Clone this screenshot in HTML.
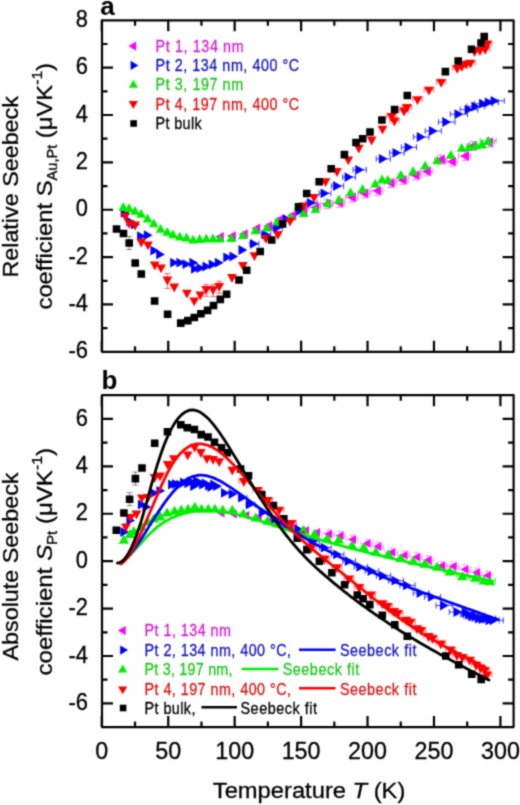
<!DOCTYPE html><html><head><meta charset="utf-8"><style>html,body{margin:0;padding:0;background:#fff;width:520px;height:805px;overflow:hidden}svg{display:block}</style></head><body><svg width="520" height="805" viewBox="0 0 520 805">
<style>text{font-family:'Liberation Sans', Arial, Helvetica, sans-serif;} .tk{font-size:23.3px;stroke:#000;stroke-width:0.3px} .lg{font-size:15.6px;stroke-width:0.3px} .ti{font-size:22.8px;stroke:#000;stroke-width:0.3px}</style>
<defs><filter id="bl" filterUnits="userSpaceOnUse" x="0" y="0" width="520" height="805" color-interpolation-filters="sRGB"><feConvolveMatrix order="3" kernelMatrix="0.0361 0.1178 0.0361 0.1178 0.3846 0.1178 0.0361 0.1178 0.0361" preserveAlpha="false"/></filter></defs>
<rect width="520" height="805" fill="#fff"/>
<g filter="url(#bl)">
<text x="100.3" y="15.4" style="font-size:26px;font-weight:bold">a</text>
<text x="101.5" y="388.5" style="font-size:26px;font-weight:bold">b</text>
<path d="M129.2 236.5V249.5M126.2 236.5h6M126.2 249.5h6" stroke="#000000" stroke-width="1" fill="none" opacity="0.45"/>
<path d="M308.8 207.4H320.8M308.8 204.4v6M320.8 204.4v6M320.4 203.9H332.4M320.4 200.9v6M332.4 200.9v6M332.9 202.9H344.9M332.9 199.9v6M344.9 199.9v6M345.5 197.5H357.5M345.5 194.5v6M357.5 194.5v6M358.0 193.5H370.0M358.0 190.5v6M370.0 190.5v6M370.7 190.8H382.7M370.7 187.8v6M382.7 187.8v6M384.2 183.1H396.2M384.2 180.1v6M396.2 180.1v6M396.2 180.2H408.2M396.2 177.2v6M408.2 177.2v6M409.2 175.4H421.2M409.2 172.4v6M421.2 172.4v6M420.5 171.4H432.5M420.5 168.4v6M432.5 168.4v6M434.5 159.5H446.5M434.5 156.5v6M446.5 156.5v6M445.5 161.7H457.5M445.5 158.7v6M457.5 158.7v6M458.6 156.0H470.6M458.6 153.0v6M470.6 153.0v6M466.3 146.0H478.3M466.3 143.0v6M478.3 143.0v6M482.5 142.5H494.5M482.5 139.5v6M494.5 139.5v6M314.8 202.9V211.9M311.8 202.9h6M311.8 211.9h6M326.4 199.4V208.4M323.4 199.4h6M323.4 208.4h6M338.9 198.4V207.4M335.9 198.4h6M335.9 207.4h6M351.5 193.0V202.0M348.5 193.0h6M348.5 202.0h6M364.0 189.0V198.0M361.0 189.0h6M361.0 198.0h6M376.7 186.3V195.3M373.7 186.3h6M373.7 195.3h6M390.2 178.6V187.6M387.2 178.6h6M387.2 187.6h6M402.2 175.7V184.7M399.2 175.7h6M399.2 184.7h6M415.2 170.9V179.9M412.2 170.9h6M412.2 179.9h6M426.5 166.9V175.9M423.5 166.9h6M423.5 175.9h6M440.5 155.0V164.0M437.5 155.0h6M437.5 164.0h6M451.5 157.2V166.2M448.5 157.2h6M448.5 166.2h6M464.6 151.5V160.5M461.6 151.5h6M461.6 160.5h6M472.3 141.5V150.5M469.3 141.5h6M469.3 150.5h6M488.5 138.0V147.0M485.5 138.0h6M485.5 147.0h6" stroke="#ff00ff" stroke-width="1" fill="none" opacity="0.5"/>
<path d="M249.9 243.8H258.9M249.9 240.8v6M258.9 240.8v6M261.3 234.6H270.7M261.3 231.6v6M270.7 231.6v6M272.6 227.8H282.6M272.6 224.8v6M282.6 224.8v6M281.9 219.0H292.1M281.9 216.0v6M292.1 216.0v6M295.1 210.8H305.9M295.1 207.8v6M305.9 207.8v6M305.9 202.8H317.1M305.9 199.8v6M317.1 199.8v6M319.1 193.3H330.9M319.1 190.3v6M330.9 190.3v6M331.4 186.0H343.6M331.4 183.0v6M343.6 183.0v6M342.6 177.1H355.4M342.6 174.1v6M355.4 174.1v6M353.1 169.8H366.3M353.1 166.8v6M366.3 166.8v6M376.2 158.8H390.4M376.2 155.8v6M390.4 155.8v6M389.6 152.8H404.2M389.6 149.8v6M404.2 149.8v6M401.4 147.3H416.6M401.4 144.3v6M416.6 144.3v6M413.4 137.0H429.0M413.4 134.0v6M429.0 134.0v6M425.2 131.0H441.4M425.2 128.0v6M441.4 128.0v6M438.4 122.0H455.0M438.4 119.0v6M455.0 119.0v6M450.3 114.2H467.5M450.3 111.2v6M467.5 111.2v6M460.2 109.6H477.8M460.2 106.6v6M477.8 106.6v6M466.9 106.5H484.7M466.9 103.5v6M484.7 103.5v6M474.4 103.7H492.6M474.4 100.7v6M492.6 100.7v6M480.0 102.3H498.4M480.0 99.3v6M498.4 99.3v6M485.7 100.8H504.3M485.7 97.8v6M504.3 97.8v6" stroke="#0000ff" stroke-width="1" fill="none" opacity="0.75"/>
<path d="M386.7 116.0H396.3M386.7 113.0v6M396.3 113.0v6M389.6 120.5H399.2M389.6 117.5v6M399.2 117.5v6M399.2 110.5H408.8M399.2 107.5v6M408.8 107.5v6M402.2 107.0H411.8M402.2 104.0v6M411.8 104.0v6M412.7 99.1H422.3M412.7 96.1v6M422.3 96.1v6M424.2 89.7H433.8M424.2 86.7v6M433.8 86.7v6M436.4 81.8H446.0M436.4 78.8v6M446.0 78.8v6M452.4 67.9H462.0M452.4 64.9v6M462.0 64.9v6M457.1 65.8H466.7M457.1 62.8v6M466.7 62.8v6M461.4 63.7H471.0M461.4 60.7v6M471.0 60.7v6M465.6 62.7H475.2M465.6 59.7v6M475.2 59.7v6M469.8 51.0H479.4M469.8 48.0v6M479.4 48.0v6M475.1 50.0H484.7M475.1 47.0v6M484.7 47.0v6M480.4 48.9H490.0M480.4 45.9v6M490.0 45.9v6M482.5 43.5H492.1M482.5 40.5v6M492.1 40.5v6" stroke="#ff0000" stroke-width="1" fill="none" opacity="0.5"/>
<path d="M167.4 273.5V288.5M164.4 273.5h6M164.4 288.5h6M206.2 284.4V296.4M203.2 284.4h6M203.2 296.4h6M213.1 284.7V296.7M210.1 284.7h6M210.1 296.7h6M219.2 281.3V293.3M216.2 281.3h6M216.2 293.3h6" stroke="#ff0000" stroke-width="1" fill="none" opacity="0.6"/>
<path d="M129.6 492.7V505.7M126.6 492.7h6M126.6 505.7h6M135.4 472.1V485.1M132.4 472.1h6M132.4 485.1h6" stroke="#000000" stroke-width="1" fill="none" opacity="0.45"/>
<path d="M322.0 534.0H334.0M322.0 531.0v6M334.0 531.0v6M333.6 535.7H345.6M333.6 532.7v6M345.6 532.7v6M346.0 539.5H358.0M346.0 536.5v6M358.0 536.5v6M360.5 543.4H372.5M360.5 540.4v6M372.5 540.4v6M371.4 546.5H383.4M371.4 543.5v6M383.4 543.5v6M385.2 552.3H397.2M385.2 549.3v6M397.2 549.3v6M397.7 555.2H409.7M397.7 552.2v6M409.7 552.2v6M410.2 557.1H422.2M410.2 554.1v6M422.2 554.1v6M421.7 560.0H433.7M421.7 557.0v6M433.7 557.0v6M435.2 565.7H447.2M435.2 562.7v6M447.2 562.7v6M446.7 566.3H458.7M446.7 563.3v6M458.7 563.3v6M458.5 569.4H470.5M458.5 566.4v6M470.5 566.4v6M470.0 572.5H482.0M470.0 569.5v6M482.0 569.5v6M481.0 575.5H493.0M481.0 572.5v6M493.0 572.5v6M328.0 529.5V538.5M325.0 529.5h6M325.0 538.5h6M339.6 531.2V540.2M336.6 531.2h6M336.6 540.2h6M352.0 535.0V544.0M349.0 535.0h6M349.0 544.0h6M366.5 538.9V547.9M363.5 538.9h6M363.5 547.9h6M377.4 542.0V551.0M374.4 542.0h6M374.4 551.0h6M391.2 547.8V556.8M388.2 547.8h6M388.2 556.8h6M403.7 550.7V559.7M400.7 550.7h6M400.7 559.7h6M416.2 552.6V561.6M413.2 552.6h6M413.2 561.6h6M427.7 555.5V564.5M424.7 555.5h6M424.7 564.5h6M441.2 561.2V570.2M438.2 561.2h6M438.2 570.2h6M452.7 561.8V570.8M449.7 561.8h6M449.7 570.8h6M464.5 564.9V573.9M461.5 564.9h6M461.5 573.9h6M476.0 568.0V577.0M473.0 568.0h6M473.0 577.0h6M487.0 571.0V580.0M484.0 571.0h6M484.0 580.0h6" stroke="#ff00ff" stroke-width="1" fill="none" opacity="0.3"/>
<path d="M238.4 497.7H247.0M238.4 494.7v6M247.0 494.7v6M246.0 504.4H254.8M246.0 501.4v6M254.8 501.4v6M259.1 512.1H268.5M259.1 509.1v6M268.5 509.1v6M271.1 519.0H280.9M271.1 516.0v6M280.9 516.0v6M282.8 525.0H293.2M282.8 522.0v6M293.2 522.0v6M293.8 529.4H304.6M293.8 526.4v6M304.6 526.4v6M308.0 541.0H319.4M308.0 538.0v6M319.4 538.0v6M319.3 547.7H331.1M319.3 544.7v6M331.1 544.7v6M331.5 554.4H343.9M331.5 551.4v6M343.9 551.4v6M342.8 561.2H355.6M342.8 558.2v6M355.6 558.2v6M354.2 566.9H367.4M354.2 563.9v6M367.4 563.9v6M365.2 571.0H378.8M365.2 568.0v6M378.8 568.0v6M376.4 575.8H390.6M376.4 572.8v6M390.6 572.8v6M388.7 580.6H403.3M388.7 577.6v6M403.3 577.6v6M399.9 585.4H415.1M399.9 582.4v6M415.1 582.4v6M413.2 593.1H428.8M413.2 590.1v6M428.8 590.1v6M424.4 596.9H440.6M424.4 593.9v6M440.6 593.9v6M436.1 605.5H452.7M436.1 602.5v6M452.7 602.5v6M449.3 612.0H466.5M449.3 609.0v6M466.5 609.0v6M457.3 612.5H474.7M457.3 609.5v6M474.7 609.5v6M460.7 614.5H478.3M460.7 611.5v6M478.3 611.5v6M463.6 616.0H481.4M463.6 613.0v6M481.4 613.0v6M467.1 616.5H484.9M467.1 613.5v6M484.9 613.5v6M470.5 618.5H488.5M470.5 615.5v6M488.5 615.5v6M473.9 619.0H492.1M473.9 616.0v6M492.1 616.0v6M477.4 618.5H495.6M477.4 615.5v6M495.6 615.5v6M480.8 620.3H499.2M480.8 617.3v6M499.2 617.3v6M484.7 620.3H503.3M484.7 617.3v6M503.3 617.3v6" stroke="#0000ff" stroke-width="1" fill="none" opacity="0.75"/>
<path d="M239.0 481.0H248.6M239.0 478.0v6M248.6 478.0v6M252.7 490.0H262.3M252.7 487.0v6M262.3 487.0v6M262.9 500.0H272.5M262.9 497.0v6M272.5 497.0v6M274.4 509.7H284.0M274.4 506.7v6M284.0 506.7v6M286.7 523.0H296.3M286.7 520.0v6M296.3 520.0v6M295.7 534.5H305.3M295.7 531.5v6M305.3 531.5v6M306.7 547.0H316.3M306.7 544.0v6M316.3 544.0v6M319.7 558.5H329.3M319.7 555.5v6M329.3 555.5v6M332.2 567.2H341.8M332.2 564.2v6M341.8 564.2v6M344.0 578.5H353.6M344.0 575.5v6M353.6 575.5v6M354.2 587.0H363.8M354.2 584.0v6M363.8 584.0v6M366.0 594.5H375.6M366.0 591.5v6M375.6 591.5v6M377.5 603.1H387.1M377.5 600.1v6M387.1 600.1v6M382.7 606.0H392.3M382.7 603.0v6M392.3 603.0v6M389.0 610.8H398.6M389.0 607.8v6M398.6 607.8v6M393.2 612.9H402.8M393.2 609.9v6M402.8 609.9v6M401.5 619.7H411.1M401.5 616.7v6M411.1 616.7v6M405.7 621.7H415.3M405.7 618.7v6M415.3 618.7v6M412.1 628.1H421.7M412.1 625.1v6M421.7 625.1v6M416.2 630.0H425.8M416.2 627.0v6M425.8 627.0v6M423.7 636.0H433.3M423.7 633.0v6M433.3 633.0v6M427.7 638.0H437.3M427.7 635.0v6M437.3 635.0v6M436.0 643.5H445.6M436.0 640.5v6M445.6 640.5v6M445.7 649.5H455.3M445.7 646.5v6M455.3 646.5v6M452.1 655.0H461.7M452.1 652.0v6M461.7 652.0v6M457.5 656.8H467.1M457.5 653.8v6M467.1 653.8v6M464.8 659.6H474.4M464.8 656.6v6M474.4 656.6v6M471.2 664.5H480.8M471.2 661.5v6M480.8 661.5v6M475.7 667.5H485.3M475.7 664.5v6M485.3 664.5v6M479.8 670.0H489.4M479.8 667.0v6M489.4 667.0v6M482.2 674.5H491.8M482.2 671.5v6M491.8 671.5v6" stroke="#ff0000" stroke-width="1" fill="none" opacity="0.5"/>
<path d="M419.3 563.3H430.3M419.3 560.3v6M430.3 560.3v6M431.8 566.2H442.8M431.8 563.2v6M442.8 563.2v6M444.3 571.0H455.3M444.3 568.0v6M455.3 568.0v6M456.8 575.8H467.8M456.8 572.8v6M467.8 572.8v6M469.7 577.3H480.7M469.7 574.3v6M480.7 574.3v6M478.3 579.9H489.3M478.3 576.9v6M489.3 576.9v6M484.4 580.8H495.4M484.4 577.8v6M495.4 577.8v6" stroke="#00ee00" stroke-width="1" fill="none" opacity="0.75"/>
<path d="M480.2 140.5H496.2M480.2 137.5v6M496.2 137.5v6" stroke="#00ee00" stroke-width="1" fill="none" opacity="0.75"/>
<path d="M223.8 231.9L215.0 236.8L223.8 241.7zM235.8 231.2L227.0 236.1L235.8 241.0zM247.7 229.3L238.9 234.2L247.7 239.1zM260.2 223.6L251.4 228.5L260.2 233.4zM272.2 221.1L263.4 226.0L272.2 230.9zM282.6 215.1L273.8 220.0L282.6 224.9zM296.2 210.4L287.4 215.3L296.2 220.2zM307.4 206.1L298.6 211.0L307.4 215.9zM319.2 202.5L310.4 207.4L319.2 212.3zM330.8 199.0L322.0 203.9L330.8 208.8zM343.3 198.0L334.5 202.9L343.3 207.8zM355.9 192.6L347.1 197.5L355.9 202.4zM368.4 188.6L359.6 193.5L368.4 198.4zM381.1 185.9L372.3 190.8L381.1 195.7zM394.6 178.2L385.8 183.1L394.6 188.0zM406.6 175.3L397.8 180.2L406.6 185.1zM419.6 170.5L410.8 175.4L419.6 180.3zM430.9 166.5L422.1 171.4L430.9 176.3zM444.9 154.6L436.1 159.5L444.9 164.4zM455.9 156.8L447.1 161.7L455.9 166.6zM469.0 151.1L460.2 156.0L469.0 160.9zM476.7 141.1L467.9 146.0L476.7 150.9zM492.9 137.6L484.1 142.5L492.9 147.4z" fill="#ff00ff"/>
<path d="M120.7 207.9L129.5 212.8L120.7 217.7zM126.4 216.8L135.2 221.7L126.4 226.6zM131.2 219.7L140.0 224.6L131.2 229.5zM137.1 231.3L145.9 236.2L137.1 241.1zM143.8 230.3L152.6 235.2L143.8 240.1zM150.4 245.7L159.2 250.6L150.4 255.5zM156.2 249.5L165.0 254.4L156.2 259.3zM170.2 257.8L179.0 262.7L170.2 267.6zM176.4 257.8L185.2 262.7L176.4 267.6zM182.5 259.3L191.3 264.2L182.5 269.1zM189.4 257.8L198.2 262.7L189.4 267.6zM191.0 263.9L199.8 268.8L191.0 273.7zM196.4 263.1L205.2 268.0L196.4 272.9zM202.5 261.6L211.3 266.5L202.5 271.4zM208.7 259.6L217.5 264.5L208.7 269.4zM214.8 257.8L223.6 262.7L214.8 267.6zM223.3 252.4L232.1 257.3L223.3 262.2zM229.4 251.6L238.2 256.5L229.4 261.4zM238.5 245.1L247.3 250.0L238.5 254.9zM250.0 238.9L258.8 243.8L250.0 248.7zM261.6 229.7L270.4 234.6L261.6 239.5zM273.2 222.9L282.0 227.8L273.2 232.7zM282.6 214.1L291.4 219.0L282.6 223.9zM296.1 205.9L304.9 210.8L296.1 215.7zM307.1 197.9L315.9 202.8L307.1 207.7zM320.6 188.4L329.4 193.3L320.6 198.2zM333.1 181.1L341.9 186.0L333.1 190.9zM344.6 172.2L353.4 177.1L344.6 182.0zM355.3 164.9L364.1 169.8L355.3 174.7zM378.9 153.9L387.7 158.8L378.9 163.7zM392.5 147.9L401.3 152.8L392.5 157.7zM404.6 142.4L413.4 147.3L404.6 152.2zM416.8 132.1L425.6 137.0L416.8 141.9zM428.9 126.1L437.7 131.0L428.9 135.9zM442.3 117.1L451.1 122.0L442.3 126.9zM454.5 109.3L463.3 114.2L454.5 119.1zM464.6 104.7L473.4 109.6L464.6 114.5zM471.4 101.6L480.2 106.5L471.4 111.4zM479.1 98.8L487.9 103.7L479.1 108.6zM484.8 97.4L493.6 102.3L484.8 107.2zM490.6 95.9L499.4 100.8L490.6 105.7z" fill="#0000ff"/>
<path d="M123.3 202.1L128.2 210.9H118.4zM129.1 203.2L134.0 212.0H124.2zM135.0 206.0L139.9 214.8H130.1zM141.1 209.0L146.0 217.8H136.2zM147.5 213.6L152.4 222.4H142.6zM153.8 218.4L158.7 227.2H148.9zM160.6 223.9L165.5 232.7H155.7zM167.3 226.9L172.2 235.7H162.4zM173.0 229.4L177.9 238.2H168.1zM179.8 231.8L184.7 240.6H174.9zM186.5 232.6L191.4 241.4H181.6zM193.1 234.8L198.0 243.6H188.2zM199.6 234.1L204.5 242.9H194.7zM206.3 233.6L211.2 242.4H201.4zM213.0 233.6L217.9 242.4H208.1zM219.8 233.6L224.7 242.4H214.9zM231.3 233.1L236.2 241.9H226.4zM242.9 230.2L247.8 239.0H238.0zM255.4 225.4L260.3 234.2H250.5zM266.9 222.6L271.8 231.4H262.0zM277.2 216.6L282.1 225.4H272.3zM291.0 211.9L295.9 220.7H286.1zM303.5 208.1L308.4 216.9H298.6zM315.4 204.2L320.3 213.0H310.5zM327.5 198.1L332.4 206.9H322.6zM339.0 194.6L343.9 203.4H334.1zM350.5 187.4L355.4 196.2H345.6zM362.5 184.1L367.4 192.9H357.6zM375.3 178.7L380.2 187.5H370.4zM382.0 174.4L386.9 183.2H377.1zM387.8 175.0L392.7 183.8H382.9zM400.8 170.0L405.7 178.8H395.9zM413.1 166.2L418.0 175.0H408.2zM425.2 160.8L430.1 169.6H420.3zM437.3 155.4L442.2 164.2H432.4zM450.8 150.0L455.7 158.8H445.9zM461.7 142.9L466.6 151.7H456.8zM469.0 142.1L473.9 150.9H464.1zM475.7 140.4L480.6 149.2H470.8zM482.0 139.6L486.9 148.4H477.1zM488.2 136.1L493.1 144.9H483.3z" fill="#00ee00"/>
<path d="M120.4 212.8H130.2L125.3 221.6zM124.5 220.1H134.3L129.4 228.9zM130.3 221.6H140.1L135.2 230.4zM136.4 238.6H146.2L141.3 247.4zM143.1 241.4H152.9L148.0 250.2zM149.9 261.6H159.7L154.8 270.4zM156.1 264.4H165.9L161.0 273.2zM162.5 276.6H172.3L167.4 285.4zM169.3 283.6H179.1L174.2 292.4zM182.0 289.8H191.8L186.9 298.6zM189.3 297.5H199.1L194.2 306.3zM195.4 291.4H205.2L200.3 300.2zM201.3 286.0H211.1L206.2 294.8zM208.2 286.3H218.0L213.1 295.1zM214.3 282.9H224.1L219.2 291.7zM227.1 274.1H236.9L232.0 282.9zM238.0 261.9H247.8L242.9 270.7zM249.5 252.3H259.3L254.4 261.1zM261.1 235.0H270.9L266.0 243.8zM273.0 231.1H282.8L277.9 239.9zM285.1 217.8H294.9L290.0 226.6zM298.5 202.4H308.3L303.4 211.2zM309.1 194.0H318.9L314.0 202.8zM320.6 178.3H330.4L325.5 187.1zM332.1 168.1H341.9L337.0 176.9zM343.4 156.4H353.2L348.3 165.2zM353.9 144.8H363.7L358.8 153.6zM366.7 136.6H376.5L371.6 145.4zM377.6 125.8H387.4L382.5 134.6zM386.6 113.1H396.4L391.5 121.9zM389.5 117.6H399.3L394.4 126.4zM399.1 107.6H408.9L404.0 116.4zM402.1 104.1H411.9L407.0 112.9zM412.6 96.2H422.4L417.5 105.0zM424.1 86.8H433.9L429.0 95.6zM436.3 78.9H446.1L441.2 87.7zM452.3 65.0H462.1L457.2 73.8zM457.0 62.9H466.8L461.9 71.7zM461.3 60.8H471.1L466.2 69.6zM465.5 59.8H475.3L470.4 68.6zM469.7 48.1H479.5L474.6 56.9zM475.0 47.1H484.8L479.9 55.9zM480.3 46.0H490.1L485.2 54.8zM482.4 40.6H492.2L487.3 49.4z" fill="#ff0000"/>
<path d="M112.7 225.2h7.6v7.6h-7.6zM119.7 229.7h7.6v7.6h-7.6zM125.4 239.2h7.6v7.6h-7.6zM131.4 259.2h7.6v7.6h-7.6zM137.5 270.2h7.6v7.6h-7.6zM150.8 297.2h7.6v7.6h-7.6zM163.8 310.4h7.6v7.6h-7.6zM176.9 319.3h7.6v7.6h-7.6zM184.0 316.8h7.6v7.6h-7.6zM190.5 313.7h7.6v7.6h-7.6zM197.1 309.9h7.6v7.6h-7.6zM203.8 306.6h7.6v7.6h-7.6zM209.7 301.7h7.6v7.6h-7.6zM216.5 295.6h7.6v7.6h-7.6zM222.8 290.4h7.6v7.6h-7.6zM235.2 276.2h7.6v7.6h-7.6zM242.9 266.4h7.6v7.6h-7.6zM256.4 247.7h7.6v7.6h-7.6zM267.9 236.2h7.6v7.6h-7.6zM278.8 220.2h7.6v7.6h-7.6zM294.7 203.0h7.6v7.6h-7.6zM302.9 189.7h7.6v7.6h-7.6zM315.4 177.9h7.6v7.6h-7.6zM327.4 165.0h7.6v7.6h-7.6zM340.6 150.8h7.6v7.6h-7.6zM352.2 138.7h7.6v7.6h-7.6zM358.9 134.9h7.6v7.6h-7.6zM366.2 128.2h7.6v7.6h-7.6zM378.1 116.2h7.6v7.6h-7.6zM390.8 105.7h7.6v7.6h-7.6zM403.5 91.7h7.6v7.6h-7.6zM441.6 67.8h7.6v7.6h-7.6zM454.4 57.2h7.6v7.6h-7.6zM467.7 45.5h7.6v7.6h-7.6zM477.2 39.2h7.6v7.6h-7.6zM480.4 32.8h7.6v7.6h-7.6z" fill="#000000"/>
<path d="M224.5 508.6L216.5 513.0L224.5 517.4zM236.9 509.6L228.9 514.0L236.9 518.4zM249.2 511.1L241.2 515.5L249.2 519.9zM261.7 512.6L253.7 517.0L261.7 521.4zM273.0 516.1L265.0 520.5L273.0 524.9zM285.0 520.1L277.0 524.5L285.0 528.9zM297.0 523.6L289.0 528.0L297.0 532.4zM309.0 526.1L301.0 530.5L309.0 534.9zM320.0 528.1L312.0 532.5L320.0 536.9zM332.0 529.6L324.0 534.0L332.0 538.4zM343.6 531.3L335.6 535.7L343.6 540.1zM356.0 535.1L348.0 539.5L356.0 543.9zM370.5 539.0L362.5 543.4L370.5 547.8zM381.4 542.1L373.4 546.5L381.4 550.9zM395.2 547.9L387.2 552.3L395.2 556.7zM407.7 550.8L399.7 555.2L407.7 559.6zM420.2 552.7L412.2 557.1L420.2 561.5zM431.7 555.6L423.7 560.0L431.7 564.4zM445.2 561.3L437.2 565.7L445.2 570.1zM456.7 561.9L448.7 566.3L456.7 570.7zM468.5 565.0L460.5 569.4L468.5 573.8zM480.0 568.1L472.0 572.5L480.0 576.9zM491.0 571.1L483.0 575.5L491.0 579.9z" fill="#ff00ff"/>
<path d="M120.3 527.1L129.1 532.0L120.3 536.9zM126.4 515.5L135.2 520.4L126.4 525.3zM137.9 499.7L146.7 504.6L137.9 509.5zM142.5 502.0L151.3 506.9L142.5 511.8zM150.2 488.2L159.0 493.1L150.2 498.0zM156.4 485.9L165.2 490.8L156.4 495.7zM168.1 479.6L176.9 484.5L168.1 489.4zM172.1 479.1L180.9 484.0L172.1 488.9zM176.4 479.7L185.2 484.6L176.4 489.5zM180.1 477.6L188.9 482.5L180.1 487.4zM184.4 478.4L193.2 483.3L184.4 488.2zM187.1 476.6L195.9 481.5L187.1 486.4zM190.2 481.3L199.0 486.2L190.2 491.1zM193.1 475.9L201.9 480.8L193.1 485.7zM196.0 477.4L204.8 482.3L196.0 487.2zM199.1 479.6L207.9 484.5L199.1 489.4zM201.8 478.4L210.6 483.3L201.8 488.2zM205.1 480.6L213.9 485.5L205.1 490.4zM207.5 482.2L216.3 487.1L207.5 492.0zM210.1 479.6L218.9 484.5L210.1 489.4zM213.3 481.3L222.1 486.2L213.3 491.1zM221.0 488.0L229.8 492.9L221.0 497.8zM228.6 489.1L237.4 494.0L228.6 498.9zM238.3 492.8L247.1 497.7L238.3 502.6zM246.0 499.5L254.8 504.4L246.0 509.3zM259.4 507.2L268.2 512.1L259.4 517.0zM271.6 514.1L280.4 519.0L271.6 523.9zM283.6 520.1L292.4 525.0L283.6 529.9zM294.8 524.5L303.6 529.4L294.8 534.3zM309.3 536.1L318.1 541.0L309.3 545.9zM320.8 542.8L329.6 547.7L320.8 552.6zM333.3 549.5L342.1 554.4L333.3 559.3zM344.8 556.3L353.6 561.2L344.8 566.1zM356.4 562.0L365.2 566.9L356.4 571.8zM367.6 566.1L376.4 571.0L367.6 575.9zM379.1 570.9L387.9 575.8L379.1 580.7zM391.6 575.7L400.4 580.6L391.6 585.5zM403.1 580.5L411.9 585.4L403.1 590.3zM416.6 588.2L425.4 593.1L416.6 598.0zM428.1 592.0L436.9 596.9L428.1 601.8zM440.0 600.6L448.8 605.5L440.0 610.4zM453.5 607.1L462.3 612.0L453.5 616.9zM461.6 607.6L470.4 612.5L461.6 617.4zM465.1 609.6L473.9 614.5L465.1 619.4zM468.1 611.1L476.9 616.0L468.1 620.9zM471.6 611.6L480.4 616.5L471.6 621.4zM475.1 613.6L483.9 618.5L475.1 623.4zM478.6 614.1L487.4 619.0L478.6 623.9zM482.1 613.6L490.9 618.5L482.1 623.4zM485.6 615.4L494.4 620.3L485.6 625.2zM489.6 615.4L498.4 620.3L489.6 625.2z" fill="#0000ff"/>
<path d="M123.8 534.7L129.1 543.7H118.5zM130.0 529.0L135.3 538.0H124.7zM133.8 526.1L139.1 535.1H128.5zM141.3 521.5L146.6 530.5H136.0zM147.5 516.5L152.8 525.5H142.2zM153.8 513.5L159.1 522.5H148.5zM160.2 511.5L165.5 520.5H154.9zM167.0 507.5L172.3 516.5H161.7zM174.6 505.7L179.9 514.7H169.3zM181.3 504.7L186.6 513.7H176.0zM188.0 503.8L193.3 512.8H182.7zM194.8 501.8L200.1 510.8H189.5zM201.5 503.8L206.8 512.8H196.2zM208.3 503.8L213.6 512.8H203.0zM215.0 503.8L220.3 512.8H209.7zM222.7 504.7L228.0 513.7H217.4zM232.3 504.7L237.6 513.7H227.0zM243.3 508.5L248.6 517.5H238.0zM255.8 512.5L261.1 521.5H250.5zM267.5 515.8L272.8 524.8H262.2zM277.3 518.2L282.6 527.2H272.0zM290.0 521.5L295.3 530.5H284.7zM303.1 524.9L308.4 533.9H297.8zM314.6 528.8L319.9 537.8H309.3zM327.1 533.6L332.4 542.6H321.8zM338.7 534.5L344.0 543.5H333.4zM352.1 540.3L357.4 549.3H346.8zM363.7 542.2L369.0 551.2H358.4zM375.8 546.7L381.1 555.7H370.5zM388.3 549.2L393.6 558.2H383.0zM400.8 553.0L406.1 562.0H395.5zM413.3 555.9L418.6 564.9H408.0zM424.8 558.8L430.1 567.8H419.5zM437.3 561.7L442.6 570.7H432.0zM449.8 566.5L455.1 575.5H444.5zM462.3 571.3L467.6 580.3H457.0zM475.2 572.8L480.5 581.8H469.9zM483.8 575.4L489.1 584.4H478.5zM489.9 576.3L495.2 585.3H484.6z" fill="#00ee00"/>
<path d="M121.0 523.4H130.8L125.9 532.2zM125.5 513.9H135.3L130.4 522.7zM131.5 510.6H141.3L136.4 519.4zM136.9 494.5H146.7L141.8 503.3zM143.1 493.9H152.9L148.0 502.7zM149.7 474.1H159.5L154.6 482.9zM155.1 472.5H164.9L160.0 481.3zM162.8 461.0H172.6L167.7 469.8zM168.9 455.2H178.7L173.8 464.0zM182.8 451.4H192.6L187.7 460.2zM189.7 443.7H199.5L194.6 452.5zM195.9 449.1H205.7L200.8 457.9zM202.0 455.2H211.8L206.9 464.0zM208.2 456.0H218.0L213.1 464.8zM214.3 458.3H224.1L219.2 467.1zM227.4 466.8H237.2L232.3 475.6zM238.9 478.1H248.7L243.8 486.9zM252.6 487.1H262.4L257.5 495.9zM262.8 497.1H272.6L267.7 505.9zM274.3 506.8H284.1L279.2 515.6zM286.6 520.1H296.4L291.5 528.9zM295.6 531.6H305.4L300.5 540.4zM306.6 544.1H316.4L311.5 552.9zM319.6 555.6H329.4L324.5 564.4zM332.1 564.3H341.9L337.0 573.1zM343.9 575.6H353.7L348.8 584.4zM354.1 584.1H363.9L359.0 592.9zM365.9 591.6H375.7L370.8 600.4zM377.4 600.2H387.2L382.3 609.0zM382.6 603.1H392.4L387.5 611.9zM388.9 607.9H398.7L393.8 616.7zM393.1 610.0H402.9L398.0 618.8zM401.4 616.8H411.2L406.3 625.6zM405.6 618.8H415.4L410.5 627.6zM412.0 625.2H421.8L416.9 634.0zM416.1 627.1H425.9L421.0 635.9zM423.6 633.1H433.4L428.5 641.9zM427.6 635.1H437.4L432.5 643.9zM435.9 640.6H445.7L440.8 649.4zM445.6 646.6H455.4L450.5 655.4zM452.0 652.1H461.8L456.9 660.9zM457.4 653.9H467.2L462.3 662.7zM464.7 656.7H474.5L469.6 665.5zM471.1 661.6H480.9L476.0 670.4zM475.6 664.6H485.4L480.5 673.4zM479.7 667.1H489.5L484.6 675.9zM482.1 671.6H491.9L487.0 680.4z" fill="#ff0000"/>
<path d="M112.5 526.5h7.6v7.6h-7.6zM120.1 509.2h7.6v7.6h-7.6zM125.8 495.4h7.6v7.6h-7.6zM131.6 474.8h7.6v7.6h-7.6zM138.2 464.2h7.6v7.6h-7.6zM150.9 439.4h7.6v7.6h-7.6zM163.7 427.9h7.6v7.6h-7.6zM177.0 421.0h7.6v7.6h-7.6zM183.5 424.0h7.6v7.6h-7.6zM190.6 425.7h7.6v7.6h-7.6zM197.4 430.8h7.6v7.6h-7.6zM204.2 433.2h7.6v7.6h-7.6zM210.7 438.4h7.6v7.6h-7.6zM217.7 444.1h7.6v7.6h-7.6zM223.5 449.0h7.6v7.6h-7.6zM236.8 465.2h7.6v7.6h-7.6zM244.7 472.0h7.6v7.6h-7.6zM258.0 490.7h7.6v7.6h-7.6zM269.6 501.7h7.6v7.6h-7.6zM280.0 515.0h7.6v7.6h-7.6zM293.5 534.3h7.6v7.6h-7.6zM303.1 545.8h7.6v7.6h-7.6zM315.6 557.4h7.6v7.6h-7.6zM328.1 568.9h7.6v7.6h-7.6zM340.8 581.0h7.6v7.6h-7.6zM353.5 591.2h7.6v7.6h-7.6zM359.3 595.0h7.6v7.6h-7.6zM366.0 600.8h7.6v7.6h-7.6zM378.5 611.4h7.6v7.6h-7.6zM391.0 621.0h7.6v7.6h-7.6zM403.5 632.5h7.6v7.6h-7.6zM442.0 652.2h7.6v7.6h-7.6zM454.9 660.9h7.6v7.6h-7.6zM467.9 670.4h7.6v7.6h-7.6zM477.4 675.6h7.6v7.6h-7.6z" fill="#000000"/>
<path d="M121.0 562.9 L123.3 561.1 L125.7 559.2 L128.0 557.1 L130.3 554.8 L132.7 552.3 L135.0 549.8 L137.4 547.2 L139.7 544.6 L142.0 542.0 L144.4 539.4 L146.7 536.9 L149.0 534.5 L151.4 532.2 L153.7 530.1 L156.0 528.1 L158.4 526.2 L160.7 524.5 L163.1 522.9 L165.4 521.5 L167.7 520.1 L170.1 518.9 L172.4 517.8 L174.7 516.8 L177.1 515.8 L179.4 515.0 L181.7 514.2 L184.1 513.5 L186.4 512.9 L188.8 512.4 L191.1 511.9 L193.4 511.5 L195.8 511.2 L198.1 510.9 L200.4 510.7 L202.8 510.6 L205.1 510.5 L207.4 510.5 L209.8 510.5 L212.1 510.6 L214.5 510.7 L216.8 510.9 L219.1 511.1 L221.5 511.4 L223.8 511.7 L226.1 512.1 L228.5 512.5 L230.8 513.0 L233.2 513.4 L235.5 513.9 L237.8 514.5 L240.2 515.1 L242.5 515.7 L244.8 516.3 L247.2 517.0 L249.5 517.6 L251.8 518.3 L254.2 519.0 L256.5 519.8 L258.9 520.5 L261.2 521.3 L263.5 522.0 L265.9 522.8 L268.2 523.6 L270.5 524.4 L272.9 525.1 L275.2 525.9 L277.5 526.7 L279.9 527.5 L282.2 528.3 L284.6 529.0 L286.9 529.8 L289.2 530.5 L291.6 531.3 L293.9 532.0 L296.2 532.7 L298.6 533.5 L300.9 534.2 L303.2 534.9 L305.6 535.6 L307.9 536.3 L310.3 537.0 L312.6 537.7 L314.9 538.4 L317.3 539.0 L319.6 539.7 L321.9 540.4 L324.3 541.1 L326.6 541.7 L328.9 542.4 L331.3 543.0 L333.6 543.6 L336.0 544.3 L338.3 544.9 L340.6 545.5 L343.0 546.2 L345.3 546.8 L347.6 547.4 L350.0 548.0 L352.3 548.6 L354.6 549.2 L357.0 549.8 L359.3 550.4 L361.7 551.0 L364.0 551.6 L366.3 552.2 L368.7 552.8 L371.0 553.3 L373.3 553.9 L375.7 554.5 L378.0 555.1 L380.3 555.6 L382.7 556.2 L385.0 556.8 L387.4 557.3 L389.7 557.9 L392.0 558.4 L394.4 559.0 L396.7 559.5 L399.0 560.1 L401.4 560.6 L403.7 561.2 L406.1 561.7 L408.4 562.3 L410.7 562.8 L413.1 563.3 L415.4 563.9 L417.7 564.4 L420.1 564.9 L422.4 565.5 L424.7 566.0 L427.1 566.5 L429.4 567.1 L431.8 567.6 L434.1 568.1 L436.4 568.7 L438.8 569.2 L441.1 569.7 L443.4 570.3 L445.8 570.8 L448.1 571.3 L450.4 571.9 L452.8 572.4 L455.1 572.9 L457.5 573.5 L459.8 574.0 L462.1 574.5 L464.5 575.1 L466.8 575.6 L469.1 576.2 L471.5 576.7 L473.8 577.2 L476.1 577.8 L478.5 578.3 L480.8 578.9 L483.2 579.4 L485.5 580.0 L487.8 580.5 L490.2 581.1 L492.5 581.6" fill="none" stroke="#00ee00" stroke-width="2.8" stroke-linecap="round" stroke-linejoin="round"/>
<path d="M121.0 563.5 L123.4 561.5 L125.7 559.3 L128.1 556.8 L130.5 554.0 L132.8 551.0 L135.2 547.7 L137.6 544.4 L140.0 540.8 L142.3 537.2 L144.7 533.5 L147.1 529.7 L149.4 525.9 L151.8 522.1 L154.2 518.4 L156.5 514.7 L158.9 511.1 L161.3 507.5 L163.6 504.1 L166.0 500.8 L168.4 497.7 L170.8 494.7 L173.1 491.8 L175.5 489.2 L177.9 486.7 L180.2 484.4 L182.6 482.4 L185.0 480.6 L187.3 479.0 L189.7 477.7 L192.1 476.7 L194.4 476.0 L196.8 475.5 L199.2 475.2 L201.6 475.2 L203.9 475.4 L206.3 475.7 L208.7 476.3 L211.0 477.0 L213.4 477.9 L215.8 478.9 L218.1 480.0 L220.5 481.3 L222.9 482.6 L225.2 484.1 L227.6 485.6 L230.0 487.1 L232.4 488.7 L234.7 490.3 L237.1 492.0 L239.5 493.6 L241.8 495.3 L244.2 497.0 L246.6 498.7 L248.9 500.4 L251.3 502.1 L253.7 503.8 L256.0 505.5 L258.4 507.3 L260.8 509.0 L263.2 510.7 L265.5 512.4 L267.9 514.0 L270.3 515.7 L272.6 517.3 L275.0 519.0 L277.4 520.6 L279.7 522.2 L282.1 523.7 L284.5 525.3 L286.8 526.8 L289.2 528.3 L291.6 529.8 L294.0 531.3 L296.3 532.8 L298.7 534.2 L301.1 535.7 L303.4 537.1 L305.8 538.5 L308.2 539.9 L310.5 541.2 L312.9 542.6 L315.3 543.9 L317.6 545.2 L320.0 546.5 L322.4 547.8 L324.7 549.1 L327.1 550.4 L329.5 551.6 L331.9 552.9 L334.2 554.1 L336.6 555.3 L339.0 556.5 L341.3 557.7 L343.7 558.9 L346.1 560.0 L348.4 561.2 L350.8 562.3 L353.2 563.5 L355.5 564.6 L357.9 565.7 L360.3 566.8 L362.7 567.9 L365.0 568.9 L367.4 570.0 L369.8 571.1 L372.1 572.1 L374.5 573.1 L376.9 574.2 L379.2 575.2 L381.6 576.2 L384.0 577.2 L386.3 578.2 L388.7 579.2 L391.1 580.1 L393.5 581.1 L395.8 582.1 L398.2 583.0 L400.6 584.0 L402.9 584.9 L405.3 585.8 L407.7 586.7 L410.0 587.7 L412.4 588.6 L414.8 589.5 L417.1 590.4 L419.5 591.3 L421.9 592.2 L424.3 593.1 L426.6 593.9 L429.0 594.8 L431.4 595.7 L433.7 596.6 L436.1 597.4 L438.5 598.3 L440.8 599.2 L443.2 600.0 L445.6 600.9 L447.9 601.7 L450.3 602.6 L452.7 603.4 L455.1 604.3 L457.4 605.1 L459.8 605.9 L462.2 606.8 L464.5 607.6 L466.9 608.5 L469.3 609.3 L471.6 610.1 L474.0 611.0 L476.4 611.8 L478.7 612.6 L481.1 613.5 L483.5 614.3 L485.9 615.2 L488.2 616.0 L490.6 616.8 L493.0 617.7 L495.3 618.5 L497.7 619.4" fill="none" stroke="#0000ff" stroke-width="2.8" stroke-linecap="round" stroke-linejoin="round"/>
<path d="M121.0 564.0 L123.3 562.2 L125.6 559.8 L127.9 556.9 L130.2 553.6 L132.5 549.8 L134.8 545.6 L137.1 541.2 L139.4 536.4 L141.7 531.4 L144.0 526.3 L146.3 520.9 L148.6 515.5 L150.9 510.0 L153.3 504.5 L155.6 499.0 L157.9 493.6 L160.2 488.4 L162.5 483.2 L164.8 478.3 L167.1 473.7 L169.4 469.3 L171.7 465.3 L174.0 461.7 L176.3 458.4 L178.6 455.5 L180.9 452.9 L183.2 450.7 L185.5 448.8 L187.8 447.3 L190.1 446.0 L192.4 445.1 L194.7 444.4 L197.0 444.0 L199.3 443.8 L201.6 443.9 L203.9 444.3 L206.2 444.8 L208.5 445.6 L210.8 446.6 L213.2 447.8 L215.5 449.1 L217.8 450.7 L220.1 452.3 L222.4 454.2 L224.7 456.1 L227.0 458.2 L229.3 460.4 L231.6 462.7 L233.9 465.1 L236.2 467.6 L238.5 470.1 L240.8 472.7 L243.1 475.3 L245.4 478.0 L247.7 480.7 L250.0 483.4 L252.3 486.1 L254.6 488.8 L256.9 491.5 L259.2 494.2 L261.5 496.9 L263.8 499.6 L266.1 502.3 L268.4 505.0 L270.7 507.6 L273.0 510.3 L275.4 512.9 L277.7 515.5 L280.0 518.0 L282.3 520.5 L284.6 523.0 L286.9 525.4 L289.2 527.7 L291.5 530.1 L293.8 532.3 L296.1 534.5 L298.4 536.7 L300.7 538.8 L303.0 540.9 L305.3 543.0 L307.6 545.0 L309.9 547.0 L312.2 549.0 L314.5 550.9 L316.8 552.8 L319.1 554.7 L321.4 556.6 L323.7 558.5 L326.0 560.3 L328.3 562.2 L330.6 564.0 L332.9 565.8 L335.3 567.7 L337.6 569.5 L339.9 571.4 L342.2 573.2 L344.5 575.1 L346.8 576.9 L349.1 578.8 L351.4 580.7 L353.7 582.5 L356.0 584.4 L358.3 586.3 L360.6 588.1 L362.9 590.0 L365.2 591.8 L367.5 593.7 L369.8 595.5 L372.1 597.3 L374.4 599.2 L376.7 601.0 L379.0 602.8 L381.3 604.6 L383.6 606.4 L385.9 608.1 L388.2 609.9 L390.5 611.6 L392.8 613.3 L395.1 615.0 L397.5 616.7 L399.8 618.4 L402.1 620.0 L404.4 621.6 L406.7 623.2 L409.0 624.8 L411.3 626.4 L413.6 627.9 L415.9 629.4 L418.2 630.9 L420.5 632.3 L422.8 633.8 L425.1 635.2 L427.4 636.5 L429.7 637.9 L432.0 639.2 L434.3 640.5 L436.6 641.8 L438.9 643.1 L441.2 644.4 L443.5 645.7 L445.8 646.9 L448.1 648.1 L450.4 649.3 L452.7 650.6 L455.0 651.8 L457.4 653.0 L459.7 654.2 L462.0 655.4 L464.3 656.5 L466.6 657.7 L468.9 658.9 L471.2 660.1 L473.5 661.3 L475.8 662.5 L478.1 663.7 L480.4 664.9 L482.7 666.2 L485.0 667.4 L487.3 668.6" fill="none" stroke="#ff0000" stroke-width="2.8" stroke-linecap="round" stroke-linejoin="round"/>
<path d="M117.5 563.0 L119.8 562.6 L122.2 561.3 L124.5 559.0 L126.8 555.9 L129.2 552.0 L131.5 547.3 L133.9 541.9 L136.2 535.9 L138.5 529.3 L140.9 522.1 L143.2 514.4 L145.5 506.3 L147.9 497.8 L150.2 489.2 L152.5 480.8 L154.9 472.8 L157.2 465.1 L159.6 457.8 L161.9 451.0 L164.2 444.7 L166.6 438.9 L168.9 433.7 L171.2 429.1 L173.6 424.9 L175.9 421.3 L178.2 418.3 L180.6 415.7 L182.9 413.6 L185.3 412.0 L187.6 410.9 L189.9 410.2 L192.3 410.0 L194.6 410.2 L196.9 410.8 L199.3 411.8 L201.6 413.1 L203.9 414.8 L206.3 416.8 L208.6 419.0 L211.0 421.6 L213.3 424.3 L215.6 427.3 L218.0 430.5 L220.3 433.8 L222.6 437.2 L225.0 440.8 L227.3 444.5 L229.7 448.3 L232.0 452.1 L234.3 455.9 L236.7 459.7 L239.0 463.5 L241.3 467.4 L243.7 471.2 L246.0 475.0 L248.3 478.8 L250.7 482.6 L253.0 486.4 L255.4 490.2 L257.7 493.9 L260.0 497.6 L262.4 501.2 L264.7 504.8 L267.0 508.4 L269.4 511.9 L271.7 515.3 L274.0 518.7 L276.4 522.1 L278.7 525.3 L281.1 528.5 L283.4 531.6 L285.7 534.6 L288.1 537.6 L290.4 540.5 L292.7 543.3 L295.1 546.0 L297.4 548.7 L299.7 551.3 L302.1 553.8 L304.4 556.3 L306.8 558.7 L309.1 561.0 L311.4 563.3 L313.8 565.5 L316.1 567.7 L318.4 569.8 L320.8 571.9 L323.1 573.9 L325.4 575.9 L327.8 577.9 L330.1 579.9 L332.5 581.9 L334.8 583.8 L337.1 585.7 L339.5 587.6 L341.8 589.5 L344.1 591.3 L346.5 593.1 L348.8 595.0 L351.1 596.8 L353.5 598.5 L355.8 600.3 L358.2 602.1 L360.5 603.8 L362.8 605.5 L365.2 607.2 L367.5 608.9 L369.8 610.5 L372.2 612.2 L374.5 613.8 L376.8 615.4 L379.2 617.0 L381.5 618.6 L383.9 620.2 L386.2 621.7 L388.5 623.3 L390.9 624.8 L393.2 626.3 L395.5 627.8 L397.9 629.3 L400.2 630.8 L402.6 632.3 L404.9 633.7 L407.2 635.2 L409.6 636.6 L411.9 638.0 L414.2 639.4 L416.6 640.8 L418.9 642.2 L421.2 643.6 L423.6 644.9 L425.9 646.3 L428.3 647.6 L430.6 649.0 L432.9 650.3 L435.3 651.6 L437.6 652.9 L439.9 654.2 L442.3 655.5 L444.6 656.8 L446.9 658.1 L449.3 659.3 L451.6 660.6 L454.0 661.8 L456.3 663.1 L458.6 664.3 L461.0 665.6 L463.3 666.8 L465.6 668.0 L468.0 669.3 L470.3 670.5 L472.6 671.7 L475.0 672.9 L477.3 674.1 L479.7 675.3 L482.0 676.5 L484.3 677.7 L486.7 678.9 L489.0 680.1" fill="none" stroke="#000000" stroke-width="2.8" stroke-linecap="round" stroke-linejoin="round"/>
<path d="M101.80 351.80v-11M101.80 20.30v11M135.02 351.80v-5.5M135.02 20.30v5.5M168.24 351.80v-11M168.24 20.30v11M201.45 351.80v-5.5M201.45 20.30v5.5M234.67 351.80v-11M234.67 20.30v11M267.89 351.80v-5.5M267.89 20.30v5.5M301.11 351.80v-11M301.11 20.30v11M334.32 351.80v-5.5M334.32 20.30v5.5M367.54 351.80v-11M367.54 20.30v11M400.76 351.80v-5.5M400.76 20.30v5.5M433.98 351.80v-11M433.98 20.30v11M467.19 351.80v-5.5M467.19 20.30v5.5M500.41 351.80v-11M500.41 20.30v11M102.00 328.14h5.5M513.60 328.14h-5.5M102.00 304.46h11M513.60 304.46h-11M102.00 280.78h5.5M513.60 280.78h-5.5M102.00 257.10h11M513.60 257.10h-11M102.00 233.42h5.5M513.60 233.42h-5.5M102.00 209.74h11M513.60 209.74h-11M102.00 186.06h5.5M513.60 186.06h-5.5M102.00 162.38h11M513.60 162.38h-11M102.00 138.70h5.5M513.60 138.70h-5.5M102.00 115.02h11M513.60 115.02h-11M102.00 91.34h5.5M513.60 91.34h-5.5M102.00 67.66h11M513.60 67.66h-11M102.00 43.98h5.5M513.60 43.98h-5.5" stroke="#000" stroke-width="2.2" fill="none"/>
<rect x="102.0" y="20.3" width="411.60" height="331.50" fill="none" stroke="#000" stroke-width="2.2" stroke-linejoin="round"/>
<path d="M101.80 727.10v-11M101.80 395.20v11M135.02 727.10v-5.5M135.02 395.20v5.5M168.24 727.10v-11M168.24 395.20v11M201.45 727.10v-5.5M201.45 395.20v5.5M234.67 727.10v-11M234.67 395.20v11M267.89 727.10v-5.5M267.89 395.20v5.5M301.11 727.10v-11M301.11 395.20v11M334.32 727.10v-5.5M334.32 395.20v5.5M367.54 727.10v-11M367.54 395.20v11M400.76 727.10v-5.5M400.76 395.20v5.5M433.98 727.10v-11M433.98 395.20v11M467.19 727.10v-5.5M467.19 395.20v5.5M500.41 727.10v-11M500.41 395.20v11M102.00 703.42h11M513.60 703.42h-11M102.00 679.71h5.5M513.60 679.71h-5.5M102.00 656.00h11M513.60 656.00h-11M102.00 632.29h5.5M513.60 632.29h-5.5M102.00 608.58h11M513.60 608.58h-11M102.00 584.87h5.5M513.60 584.87h-5.5M102.00 561.16h11M513.60 561.16h-11M102.00 537.45h5.5M513.60 537.45h-5.5M102.00 513.74h11M513.60 513.74h-11M102.00 490.03h5.5M513.60 490.03h-5.5M102.00 466.32h11M513.60 466.32h-11M102.00 442.61h5.5M513.60 442.61h-5.5M102.00 418.90h11M513.60 418.90h-11" stroke="#000" stroke-width="2.2" fill="none"/>
<rect x="102.0" y="395.2" width="411.60" height="331.90" fill="none" stroke="#000" stroke-width="2.2" stroke-linejoin="round"/>
<text transform="translate(88,26.9) scale(0.94,1)" text-anchor="end" class="tk">8</text>
<text transform="translate(88,74.3) scale(0.94,1)" text-anchor="end" class="tk">6</text>
<text transform="translate(88,121.6) scale(0.94,1)" text-anchor="end" class="tk">4</text>
<text transform="translate(88,169.0) scale(0.94,1)" text-anchor="end" class="tk">2</text>
<text transform="translate(88,216.3) scale(0.94,1)" text-anchor="end" class="tk">0</text>
<text transform="translate(88,263.7) scale(0.94,1)" text-anchor="end" class="tk">-2</text>
<text transform="translate(88,311.1) scale(0.94,1)" text-anchor="end" class="tk">-4</text>
<text transform="translate(88,358.4) scale(0.94,1)" text-anchor="end" class="tk">-6</text>
<text transform="translate(88,425.5) scale(0.94,1)" text-anchor="end" class="tk">6</text>
<text transform="translate(88,472.9) scale(0.94,1)" text-anchor="end" class="tk">4</text>
<text transform="translate(88,520.3) scale(0.94,1)" text-anchor="end" class="tk">2</text>
<text transform="translate(88,567.8) scale(0.94,1)" text-anchor="end" class="tk">0</text>
<text transform="translate(88,615.2) scale(0.94,1)" text-anchor="end" class="tk">-2</text>
<text transform="translate(88,662.6) scale(0.94,1)" text-anchor="end" class="tk">-4</text>
<text transform="translate(88,710.0) scale(0.94,1)" text-anchor="end" class="tk">-6</text>
<text transform="translate(101.8,758.8) scale(1.0,1)" text-anchor="middle" class="tk">0</text>
<text transform="translate(168.2,758.8) scale(1.0,1)" text-anchor="middle" class="tk">50</text>
<text transform="translate(234.7,758.8) scale(1.0,1)" text-anchor="middle" class="tk">100</text>
<text transform="translate(301.1,758.8) scale(1.0,1)" text-anchor="middle" class="tk">150</text>
<text transform="translate(367.5,758.8) scale(1.0,1)" text-anchor="middle" class="tk">200</text>
<text transform="translate(434.0,758.8) scale(1.0,1)" text-anchor="middle" class="tk">250</text>
<text transform="translate(500.4,758.8) scale(1.0,1)" text-anchor="middle" class="tk">300</text>
<path d="M136.2 41.5L128.4 46.1L136.2 50.8z" fill="#ff00ff"/>
<text transform="translate(155.6,51.5) scale(0.92,1)" class="lg" fill="#d820d8" stroke="#d820d8" textLength="95.7">Pt 1, 134 nm</text>
<path d="M130.6 60.8L138.4 65.4L130.6 70.0z" fill="#0000ff"/>
<text transform="translate(155.6,71.0) scale(0.92,1)" class="lg" fill="#1616c8" stroke="#1616c8" textLength="156.0">Pt 2, 134 nm, 400 °C</text>
<path d="M133.4 79.8L138.0 87.7H128.8z" fill="#00ee00"/>
<text transform="translate(155.6,90.4) scale(0.92,1)" class="lg" fill="#1ec81e" stroke="#1ec81e" textLength="95.1">Pt 3, 197 nm</text>
<path d="M128.7 101.1H137.9L133.3 109.0z" fill="#ff0000"/>
<text transform="translate(155.6,109.8) scale(0.92,1)" class="lg" fill="#e01414" stroke="#e01414" textLength="156.0">Pt 4, 197 nm, 400 °C</text>
<path d="M130.3 120.2h6.6v6.6h-6.6z" fill="#000000"/>
<text transform="translate(155.6,129.3) scale(0.92,1)" class="lg" fill="#000000" stroke="#000000" textLength="50.0">Pt bulk</text>
<path d="M125.7 626.0L117.9 630.6L125.7 635.2z" fill="#ff00ff"/>
<text transform="translate(144.5,636.0) scale(0.92,1)" class="lg" fill="#d820d8" stroke="#d820d8" textLength="94.0">Pt 1, 134 nm</text>
<path d="M120.2 645.5L128.1 650.1L120.2 654.7z" fill="#0000ff"/>
<text transform="translate(144.5,655.6) scale(0.92,1)" class="lg" fill="#1616c8" stroke="#1616c8" textLength="159.2">Pt 2, 134 nm, 400 °C,</text>
<path d="M299 649.7H335.6" stroke="#0000ff" stroke-width="2.6"/>
<text transform="translate(339.9,655.6) scale(0.92,1)" class="lg" fill="#1616c8" stroke="#1616c8" textLength="83.2">Seebeck fit</text>
<path d="M122.7 664.6L127.3 672.4H118.1z" fill="#00ee00"/>
<text transform="translate(144.5,675.2) scale(0.92,1)" class="lg" fill="#1ec81e" stroke="#1ec81e" textLength="95.7">Pt 3, 197 nm,</text>
<path d="M241.5 669.0H278.5" stroke="#00ee00" stroke-width="2.6"/>
<text transform="translate(282.7,675.2) scale(0.92,1)" class="lg" fill="#1ec81e" stroke="#1ec81e" textLength="83.2">Seebeck fit</text>
<path d="M118.1 686.4H127.3L122.7 694.2z" fill="#ff0000"/>
<text transform="translate(144.5,694.8) scale(0.92,1)" class="lg" fill="#e01414" stroke="#e01414" textLength="159.2">Pt 4, 197 nm, 400 °C,</text>
<path d="M299 688.3H335.6" stroke="#ff0000" stroke-width="2.6"/>
<text transform="translate(339.9,694.8) scale(0.92,1)" class="lg" fill="#e01414" stroke="#e01414" textLength="83.2">Seebeck fit</text>
<path d="M119.8 704.7h6.6v6.6h-6.6z" fill="#000000"/>
<text transform="translate(144.5,714.4) scale(0.92,1)" class="lg" fill="#000000" stroke="#000000" textLength="55.4">Pt bulk,</text>
<path d="M201.5 707.2H237" stroke="#000000" stroke-width="2.6"/>
<text transform="translate(240.5,714.4) scale(0.92,1)" class="lg" fill="#000000" stroke="#000000" textLength="83.2">Seebeck fit</text>
<text x="212.8" y="798.2" class="ti" textLength="192.5" lengthAdjust="spacingAndGlyphs">Temperature <tspan font-style="italic">T</tspan> (K)</text>
<text transform="translate(18.3,277.6) rotate(-90)" class="ti" textLength="181.5" lengthAdjust="spacingAndGlyphs">Relative Seebeck</text>
<text transform="translate(51.7,309.5) rotate(-90)" class="ti" textLength="246.5" lengthAdjust="spacingAndGlyphs">coefficient S<tspan font-size="14px" dy="5">Au,Pt</tspan><tspan dy="-5"> (μVK</tspan><tspan font-size="15px" dy="-10">-1</tspan><tspan dy="10">)</tspan></text>
<text transform="translate(18.3,660.5) rotate(-90)" class="ti" textLength="188" lengthAdjust="spacingAndGlyphs">Absolute Seebeck</text>
<text transform="translate(51.7,675.5) rotate(-90)" class="ti" textLength="227.5" lengthAdjust="spacingAndGlyphs">coefficient <tspan font-style="italic">S</tspan><tspan font-size="14px" dy="5">Pt</tspan><tspan dy="-5"> (μVK</tspan><tspan font-size="15px" dy="-10">-1</tspan><tspan dy="10">)</tspan></text>
</g>
</svg></body></html>
